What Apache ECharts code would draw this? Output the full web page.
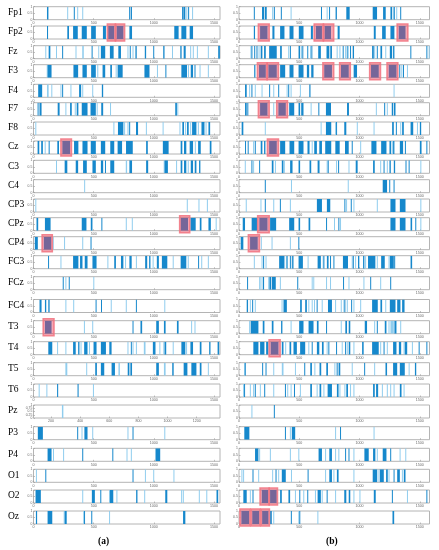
<!DOCTYPE html>
<html><head><meta charset="utf-8">
<script src="https://cdn.jsdelivr.net/npm/echarts@6/dist/echarts.min.js"></script>
<style>html,body{margin:0;padding:0;background:#fff}#c{width:439px;height:550px}</style>
</head><body><div id="c"></div>
<script>
// ---- channel names and tick labels ----
const channels = ['Fp1','Fp2','Fz','F3','F4','F7','F8','Cz','C3','C4','CP3','CPz','CP4','FC3','FCz','FC4','T3','T4','T5','T6','Pz','P3','P4','O1','O2','Oz'];
const xTickValues = [0,500,1000,1500];
const pzTickValues = [200,400,600,800,1000,1200];
const panelLabels = ['(a)','(b)'];

// ---- events: [start, end, kind]  kind 1 = dark, 0 = light ----
const a_Fp1 = [[112,124,1],[280,287,0],[335,342,1],[363,368,0],[405,412,0],[795,805,1],[810,818,1],[1235,1248,1],[1250,1262,1],[1270,1276,0],[1285,1292,1],[1318,1326,0]];
const a_Fp2 = [[112,121,1],[281,295,1],[329,368,1],[401,443,1],[479,518,1],[577,602,1],[621,671,1],[691,747,1],[797,819,1],[1170,1206,1],[1229,1270,1],[1298,1326,1]];
const a_Fz = [[98,106,0],[126,140,1],[187,194,0],[238,246,1],[349,355,0],[405,418,0],[483,490,1],[538,545,0],[560,596,1],[635,666,1],[705,727,1],[781,788,0],[800,808,1],[823,829,0],[847,858,1],[925,936,1],[995,1002,1],[1078,1089,1],[1151,1157,0],[1220,1231,1],[1248,1265,1],[1302,1308,0],[1324,1330,0],[1358,1364,0],[1449,1455,0],[1535,1549,1]];
const a_F3 = [[110,116,0],[117,150,1],[332,371,1],[407,443,1],[479,518,1],[530,536,0],[574,596,1],[638,652,1],[683,690,0],[699,741,1],[922,964,1],[1026,1032,0],[1096,1103,1],[1229,1276,1],[1284,1290,0],[1307,1326,1],[1338,1345,1],[1380,1386,0],[1449,1455,0]];
const a_F4 = [[39,72,1],[112,126,0],[148,154,0],[224,230,0],[238,246,1],[307,313,0],[379,396,1],[405,411,0],[488,494,0],[568,579,1]];
const a_F7 = [[34,42,1],[50,67,1],[201,217,1],[265,272,0],[304,318,1],[343,349,0],[359,373,1],[401,449,1],[474,518,1],[525,531,0],[563,579,1],[636,642,0],[1178,1192,1],[1195,1201,0]];
const a_F8 = [[15,21,0],[664,670,0],[702,747,1],[753,759,0],[781,790,0],[795,803,1],[852,869,1],[934,940,0],[1073,1079,0],[1213,1219,0],[1237,1251,1],[1260,1266,0],[1276,1290,1],[1302,1308,0],[1318,1354,1],[1366,1372,0],[1396,1421,1],[1430,1436,0],[1454,1468,1]];
const a_Cz = [[34,48,1],[64,78,1],[93,99,0],[126,134,1],[198,212,1],[240,304,1],[337,373,1],[407,449,1],[476,518,1],[560,596,1],[638,671,1],[699,736,1],[769,825,1],[936,950,1],[1075,1123,1],[1223,1237,1],[1251,1270,1],[1298,1326,1],[1341,1347,0],[1368,1390,1],[1465,1479,1]];
const a_C3 = [[187,193,0],[259,281,1],[351,371,1],[412,443,1],[490,518,1],[560,579,1],[594,602,1],[638,671,1],[767,778,0],[797,819,1],[936,953,1],[1082,1088,0],[1089,1117,1],[1185,1191,0],[1223,1237,1],[1251,1270,1],[1282,1288,0],[1307,1326,1],[1340,1354,1],[1376,1387,1]];
const a_C4 = [[421,428,0]];
const a_CP3 = [[15,21,0],[1274,1280,0],[1371,1377,0],[1441,1447,0]];
const a_CPz = [[25,39,1],[95,142,1],[401,440,1],[476,490,1],[564,572,1],[767,775,0],[817,823,0],[1223,1284,1],[1304,1348,1],[1382,1396,1],[1454,1474,1],[1514,1520,0]];
const a_CP4 = [[11,36,1],[86,148,1],[160,168,0],[254,260,0],[405,411,0],[474,481,1]];
const a_FC3 = [[121,128,1],[224,230,0],[329,373,1],[387,407,1],[426,449,1],[490,524,1],[614,620,0],[671,685,1],[727,747,1],[761,767,0],[797,816,1],[851,857,0],[928,945,1],[961,972,1],[990,996,0],[1025,1042,1],[1067,1112,1],[1157,1163,0],[1223,1270,1],[1282,1288,0],[1368,1376,1],[1394,1400,0],[1449,1455,0]];
const a_FCz = [[243,250,1],[265,273,0],[293,300,1],[497,503,0]];
const a_FC4 = [[50,67,1],[95,106,1],[123,134,1],[265,271,0],[330,336,0],[516,524,1],[561,569,1],[642,648,0],[767,773,0],[851,859,1],[1087,1093,0]];
const a_T3 = [[95,150,1],[419,425,0],[488,494,0],[823,831,1],[889,903,1],[1020,1042,1],[1084,1098,1],[1192,1206,1],[1310,1316,0],[1338,1344,0]];
const a_T4 = [[123,156,1],[196,202,0],[265,271,0],[329,351,1],[371,382,1],[391,397,0],[421,449,1],[461,467,0],[499,524,1],[560,602,1],[630,649,1],[781,787,0],[809,816,1],[823,829,0],[851,857,0],[917,931,0],[992,1014,1],[1046,1052,0],[1079,1085,0],[1089,1103,1],[1157,1163,0],[1229,1262,1],[1268,1274,0],[1304,1326,1],[1382,1396,1],[1460,1471,1],[1530,1543,1]];
const a_T5 = [[265,281,0],[438,444,0],[513,527,1],[560,588,1],[649,677,1],[706,718,0],[783,797,1],[805,819,1],[1020,1042,1],[1084,1098,0],[1153,1165,1],[1248,1279,1],[1312,1354,1],[1382,1396,1],[1449,1457,0]];
const a_T6 = [[43,49,0],[107,113,0],[196,205,1],[366,375,1],[494,500,0]];
const a_Pz = [[275,285,0]];
const a_P3 = [[36,78,1],[363,371,1],[399,405,0],[423,449,1],[488,494,0],[781,787,0],[823,830,1],[1087,1093,0]];
const a_P4 = [[117,150,1],[162,170,0],[246,252,0],[405,413,1],[655,663,1],[773,779,0],[809,815,0],[1014,1053,1]];
const a_O1 = [[20,26,0],[98,106,1],[823,830,1],[926,932,0],[995,1003,0],[1163,1169,0]];
const a_O2 = [[17,61,1],[405,411,0],[485,510,1],[555,563,1],[628,634,0],[635,663,1],[689,697,0],[853,864,1],[920,926,0],[1095,1112,1],[1227,1233,0],[1241,1247,0],[1374,1380,0],[1436,1442,0],[1521,1535,1]];
const a_Oz = [[20,30,1],[117,156,1],[251,258,0],[259,276,1],[413,419,0],[420,427,1],[480,488,1],[628,634,0],[1243,1262,1]];

const b_Fp1 = [[123,131,1],[191,208,1],[214,230,1],[275,281,0],[289,297,1],[347,355,1],[428,434,0],[680,688,1],[727,733,0],[747,755,1],[801,812,1],[890,918,1],[1109,1145,1],[1195,1217,1],[1256,1270,1],[1276,1282,0],[1284,1292,1],[1304,1310,0],[1337,1345,1]];
const b_Fp2 = [[123,133,1],[175,236,1],[277,294,1],[341,377,1],[419,452,1],[496,535,1],[596,613,1],[638,688,1],[710,763,1],[818,835,1],[1118,1134,1],[1187,1217,1],[1256,1289,1],[1325,1381,1]];
const b_Fz = [[95,101,0],[103,111,1],[126,134,1],[145,153,1],[162,168,0],[180,194,1],[208,222,1],[250,313,1],[341,355,1],[408,414,0],[422,430,1],[494,507,1],[514,520,0],[525,533,1],[566,574,1],[589,595,0],[600,608,1],[657,679,1],[722,728,0],[729,749,1],[757,771,1],[810,816,0],[833,839,0],[860,868,1],[880,886,0],[894,902,1],[902,908,0],[921,929,1],[943,954,1],[1104,1118,1],[1121,1127,0],[1143,1151,1],[1173,1187,1],[1213,1219,0],[1251,1270,1],[1278,1289,1],[1421,1429,1],[1554,1562,1],[1573,1579,0]];
const b_F3 = [[126,136,1],[166,222,1],[244,313,1],[341,383,1],[419,452,1],[494,535,1],[563,582,1],[599,618,1],[707,771,1],[846,910,1],[951,979,1],[1095,1159,1],[1242,1306,1],[1329,1337,1],[1346,1352,0],[1360,1368,1],[1393,1399,0]];
const b_F4 = [[50,64,1],[84,90,0],[103,111,1],[131,137,0],[187,193,0],[250,258,1],[284,290,0],[325,333,1],[395,401,0],[408,416,1],[428,434,0],[505,511,0],[583,593,1],[1282,1288,0]];
const b_F7 = [[50,64,1],[69,77,1],[175,236,1],[284,290,0],[327,388,1],[416,458,1],[494,507,1],[516,535,1],[594,600,0],[658,666,1],[721,763,1],[896,912,1],[1135,1141,0],[1204,1212,1],[1226,1232,0],[1267,1278,1],[1284,1298,1]];
const b_F8 = [[22,36,1],[214,220,0],[677,683,0],[721,765,1],[797,803,0],[805,813,1],[873,890,1],[977,983,0],[1116,1122,0],[1270,1284,1],[1301,1309,1],[1337,1343,0],[1353,1367,1],[1423,1445,1],[1476,1482,0],[1500,1511,1]];
const b_Cz = [[50,58,1],[72,80,1],[117,123,0],[131,139,1],[180,194,1],[208,219,1],[250,313,1],[341,383,1],[419,458,1],[494,535,1],[568,585,1],[603,609,0],[624,646,1],[666,688,1],[715,765,1],[799,835,1],[879,910,1],[935,943,1],[1005,1011,0],[1098,1140,1],[1179,1223,1],[1248,1262,1],[1268,1274,0],[1278,1289,1],[1334,1361,1],[1376,1384,1],[1500,1514,1],[1554,1562,1]];
const b_C3 = [[48,54,0],[103,111,1],[117,123,0],[167,175,1],[272,286,1],[298,304,0],[355,369,1],[372,378,0],[424,444,1],[494,507,1],[585,599,1],[652,668,1],[727,733,0],[736,744,1],[805,811,0],[822,830,1],[908,914,0],[968,984,1],[1112,1126,1],[1171,1177,0],[1199,1207,1],[1226,1232,0],[1248,1259,1],[1284,1295,1],[1381,1389,1],[1407,1415,1],[1504,1510,0]];
const b_C4 = [[214,222,1],[431,437,0],[902,908,0],[1192,1228,1],[1246,1254,1],[1282,1290,1]];
const b_CP3 = [[56,62,0],[178,184,0],[214,222,1],[284,290,0],[339,347,1],[422,428,0],[646,688,1],[729,757,1],[874,882,1],[888,894,0],[927,935,1],[949,955,0],[1143,1149,0],[1256,1298,1],[1334,1381,1],[1504,1510,0]];
const b_CPz = [[31,50,1],[105,153,1],[169,236,1],[258,308,1],[416,458,1],[494,507,1],[577,591,1],[722,730,1],[788,794,0],[824,832,1],[838,844,0],[1256,1298,1],[1334,1381,1],[1423,1436,1],[1462,1470,1],[1504,1510,0]];
const b_CP4 = [[14,36,1],[92,155,1],[181,187,0],[270,276,0],[422,428,0],[492,500,1]];
const b_FC3 = [[123,129,0],[187,193,0],[200,208,1],[220,226,0],[333,377,1],[389,395,0],[395,403,1],[422,430,1],[436,440,0],[441,452,1],[494,530,1],[569,575,0],[652,679,1],[694,700,0],[700,708,1],[729,743,1],[755,763,1],[783,791,1],[862,904,1],[935,941,0],[944,952,1],[963,969,0],[987,998,1],[1029,1040,1],[1046,1052,0],[1070,1131,1],[1143,1149,0],[1179,1209,1],[1240,1246,0],[1251,1284,1],[1287,1295,1],[1423,1436,1]];
const b_FCz = [[67,75,1],[167,173,0],[178,186,0],[197,208,1],[242,248,0],[252,266,1],[272,305,1],[339,345,0],[483,491,1],[603,609,0],[616,622,0],[722,728,0],[755,761,0],[863,871,1],[908,914,0],[1032,1038,0],[1088,1096,1],[1171,1177,0],[1254,1262,1]];
const b_FC4 = [[64,75,1],[90,96,0],[109,117,1],[131,137,0],[353,359,0],[369,397,1],[507,521,1],[549,563,1],[575,581,0],[603,609,0],[622,628,0],[644,652,1],[686,692,0],[738,771,1],[797,803,0],[844,850,0],[866,872,0],[874,882,1],[894,900,0],[930,938,1],[949,955,0],[1005,1011,0],[1104,1151,1],[1173,1187,1],[1213,1219,0],[1251,1298,1],[1312,1339,1],[1353,1373,1]];
const b_T3 = [[84,90,0],[97,161,1],[197,211,1],[272,286,1],[349,360,1],[428,434,0],[499,535,1],[577,618,1],[646,660,1],[722,730,1],[844,850,0],[882,896,1],[910,923,1],[1043,1062,1],[1121,1127,0],[1143,1151,1],[1209,1223,1],[1240,1246,0],[1256,1284,0],[1289,1306,1],[1337,1343,0]];
const b_T4 = [[119,161,1],[175,211,1],[225,244,1],[263,327,1],[355,369,1],[383,389,0],[419,433,1],[452,480,1],[507,549,1],[575,581,0],[603,611,1],[646,666,1],[688,702,1],[727,733,0],[741,749,1],[805,813,1],[852,858,0],[880,888,1],[894,900,0],[910,923,1],[949,955,0],[1021,1034,1],[1104,1159,1],[1171,1177,0],[1199,1207,1],[1226,1232,0],[1278,1306,1],[1326,1345,1],[1365,1371,0],[1375,1395,1],[1434,1440,0],[1490,1498,1],[1554,1562,1]];
const b_T5 = [[42,48,0],[48,56,1],[192,200,1],[220,228,1],[284,290,0],[355,369,0],[464,470,0],[541,549,1],[591,605,1],[625,631,0],[668,682,1],[724,738,1],[791,797,0],[810,818,1],[826,840,1],[935,941,0],[1038,1046,1],[1121,1127,0],[1215,1228,1],[1278,1312,1],[1334,1375,1],[1407,1413,0],[1459,1470,1]];
const b_T6 = [[34,40,0],[42,50,1],[90,96,0],[117,123,0],[131,139,1],[173,179,0],[209,217,1],[284,290,0],[381,389,1],[400,406,0],[428,434,0],[456,464,1],[505,511,0],[591,605,1],[644,650,0],[668,682,1],[700,706,0],[735,771,1],[812,826,1],[833,839,0],[874,880,0],[890,904,1],[921,927,0],[949,955,0],[1112,1126,1],[1137,1154,1],[1185,1191,0],[1226,1232,0],[1254,1260,0],[1282,1288,0],[1334,1348,1],[1365,1371,0]];
const b_Pz = [[103,109,0],[289,297,1]];
const b_P3 = [[44,86,1],[381,389,1],[422,428,0],[438,466,1],[797,803,0],[838,846,1],[1116,1122,0]];
const b_P4 = [[133,161,1],[167,175,0],[256,262,0],[422,428,0],[492,498,0],[660,688,1],[714,720,0],[749,771,1],[797,803,0],[824,830,0],[880,888,1],[908,916,1],[949,955,0],[1040,1076,1],[1112,1131,1],[1143,1149,0],[1192,1223,1],[1254,1262,1],[1332,1338,0],[1379,1385,0]];
const b_O1 = [[20,26,0],[34,40,0],[112,120,1],[159,165,0],[275,281,0],[303,311,1],[325,331,0],[355,388,1],[431,437,0],[569,577,1],[714,720,0],[749,771,1],[783,789,0],[812,826,1],[949,955,0],[1109,1145,1],[1149,1155,0],[1167,1201,1],[1220,1234,1],[1240,1246,0],[1282,1290,1],[1312,1334,1],[1351,1357,0],[1367,1381,1]];
const b_O2 = [[36,64,1],[90,96,0],[112,120,1],[189,244,1],[258,313,1],[341,355,1],[410,424,1],[464,470,0],[500,508,1],[533,539,0],[566,574,1],[630,636,0],[652,679,1],[686,692,0],[727,735,1],[797,803,0],[873,890,1],[910,923,1],[949,955,0],[999,1005,0],[1118,1134,1],[1268,1276,1],[1393,1399,0],[1554,1562,1]];
const b_Oz = [[20,85,1],[110,168,1],[192,245,1],[258,272,1],[284,290,0],[430,438,1],[492,498,0],[500,508,1],[650,656,0],[1273,1287,1]];

// ---- highlighted windows: [start, end] ----
const aH_Fp2 = [[614,681],[681,757]];
const aH_Cz = [[228,315]];
const aH_CPz = [[1215,1298]];
const aH_CP4 = [[72,156]];
const aH_T3 = [[81,170]];
const bH_Fp2 = [[161,250],[624,700],[700,785],[1312,1400]];
const bH_F3 = [[153,233],[233,327],[696,785],[835,923],[1084,1173],[1228,1317]];
const bH_F7 = [[161,250],[313,402]];
const bH_Cz = [[236,327]];
const bH_CPz = [[155,250]];
const bH_CP4 = [[78,169]];
const bH_T4 = [[250,341]];
const bH_O2 = [[175,250],[250,319]];
const bH_Oz = [[8,92],[100,175],[183,252]];

const colA = [a_Fp1,a_Fp2,a_Fz,a_F3,a_F4,a_F7,a_F8,a_Cz,a_C3,a_C4,a_CP3,a_CPz,a_CP4,a_FC3,a_FCz,a_FC4,a_T3,a_T4,a_T5,a_T6,a_Pz,a_P3,a_P4,a_O1,a_O2,a_Oz];
const colB = [b_Fp1,b_Fp2,b_Fz,b_F3,b_F4,b_F7,b_F8,b_Cz,b_C3,b_C4,b_CP3,b_CPz,b_CP4,b_FC3,b_FCz,b_FC4,b_T3,b_T4,b_T5,b_T6,b_Pz,b_P3,b_P4,b_O1,b_O2,b_Oz];
const hlA = {Fp2:aH_Fp2, Cz:aH_Cz, CPz:aH_CPz, CP4:aH_CP4, T3:aH_T3};
const hlB = {Fp2:bH_Fp2, F3:bH_F3, F7:bH_F7, Cz:bH_Cz, CPz:bH_CPz, CP4:bH_CP4, T4:bH_T4, O2:bH_O2, Oz:bH_Oz};

// ---- layout ----
const rowTops = [6.7,26,45.7,64.7,84.3,102.7,122,141,160.3,179.7,199,217.7,236.7,255.7,276.7,299.5,320.7,341.7,362.7,384,405,426.7,448.3,469.3,490,511];
const PANEL_H = 13;
const cols = [
  {left:33.5, width:186.5, max:1550, data:colA, hl:hlA},
  {left:239, width:190.5, max:1580, data:colB, hl:hlB}
];
const DARK = '#1688cc', LIGHT = '#90cdee';
const FRAME = '#b4b4b4';
const plain = v => String(v);

const grid = [], xAxis = [], yAxis = [], series = [], graphic = [];
let gi = 0;
cols.forEach((col, c) => {
  channels.forEach((ch, r) => {
    grid.push({left: col.left, top: rowTops[r], width: col.width, height: PANEL_H,
      show: true, borderColor: FRAME, borderWidth: 1, backgroundColor: '#fff'});
    const isPz = (c === 0 && ch === 'Pz');
    const xa = {type:'value', gridIndex: gi, min: isPz ? 80 : 0, max: isPz ? 1360 : col.max,
      axisLine:{show:false}, splitLine:{show:false},
      axisTick:{show:true, inside:true, length:1.5, lineStyle:{color:'#999', width:0.6}},
      axisLabel:{fontSize:3.6, color:'#666', margin:1.2, fontFamily:'Liberation Sans', formatter: plain}};
    if (isPz) {
      xa.axisLabel.customValues = pzTickValues;
      xa.axisTick.customValues = pzTickValues;
    } else {
      xa.interval = 500;
      xa.axisLabel.customValues = xTickValues;
      xa.axisTick.customValues = xTickValues;
    }
    xAxis.push(xa);
    yAxis.push({type:'value', gridIndex: gi, min:0, max:1, interval: isPz ? 0.25 : 0.5,
      axisLine:{show:false}, splitLine:{show:false},
      axisTick:{show:true, inside:true, length:1.5, lineStyle:{color:'#999', width:0.6}},
      axisLabel:{fontSize:3.4, color:'#666', margin:1.2, fontFamily:'Liberation Sans', formatter: plain}});
    series.push({
      type:'custom', xAxisIndex: gi, yAxisIndex: gi, clip: true, silent: true,
      encode:{x:[0,1], y:2},
      data: col.data[r],
      renderItem: function(params, api){
        const p0 = api.coord([api.value(0), 0]);
        const p1 = api.coord([api.value(1), 1]);
        const w = Math.max(p1[0]-p0[0], 1);
        return {type:'rect', shape:{x:p0[0], y:p1[1], width:w, height:p0[1]-p1[1]},
          style:{fill: api.value(2) ? DARK : LIGHT}};
      },
      z: 2
    });
    const h = col.hl[ch];
    if (h) {
      series.push({
        type:'custom', xAxisIndex: gi, yAxisIndex: gi, clip: false, silent: true,
        encode:{x:[0,1]},
        data: h,
        renderItem: function(params, api){
          const p0 = api.coord([api.value(0), 0]);
          const p1 = api.coord([api.value(1), 1]);
          return {type:'rect', shape:{x:p0[0], y:p1[1]-2, width:p1[0]-p0[0], height:p0[1]-p1[1]+4},
            style:{fill:'rgba(232,62,92,0.45)', stroke:'rgba(242,120,132,0.9)', lineWidth:1.6}};
        },
        z: 5
      });
    }
    if (c === 0) {
      graphic.push({type:'text', left: 8, top: rowTops[r] + PANEL_H/2 - 5.8,
        style:{text: ch, font: '9.5px "Liberation Serif", "DejaVu Serif", serif', fill:'#000'}});
    }
    gi++;
  });
});
graphic.push({type:'text', left: 98, top: 536.5,
  style:{text: panelLabels[0], font:'bold 9.5px "Liberation Serif", serif', fill:'#000'}});
graphic.push({type:'text', left: 326, top: 536.5,
  style:{text: panelLabels[1], font:'bold 9.5px "Liberation Serif", serif', fill:'#000'}});

const chart = echarts.init(document.getElementById('c'), null, {renderer:'canvas'});
chart.setOption({animation:false, backgroundColor:'#fff', grid, xAxis, yAxis, series, graphic});
</script></body></html>
